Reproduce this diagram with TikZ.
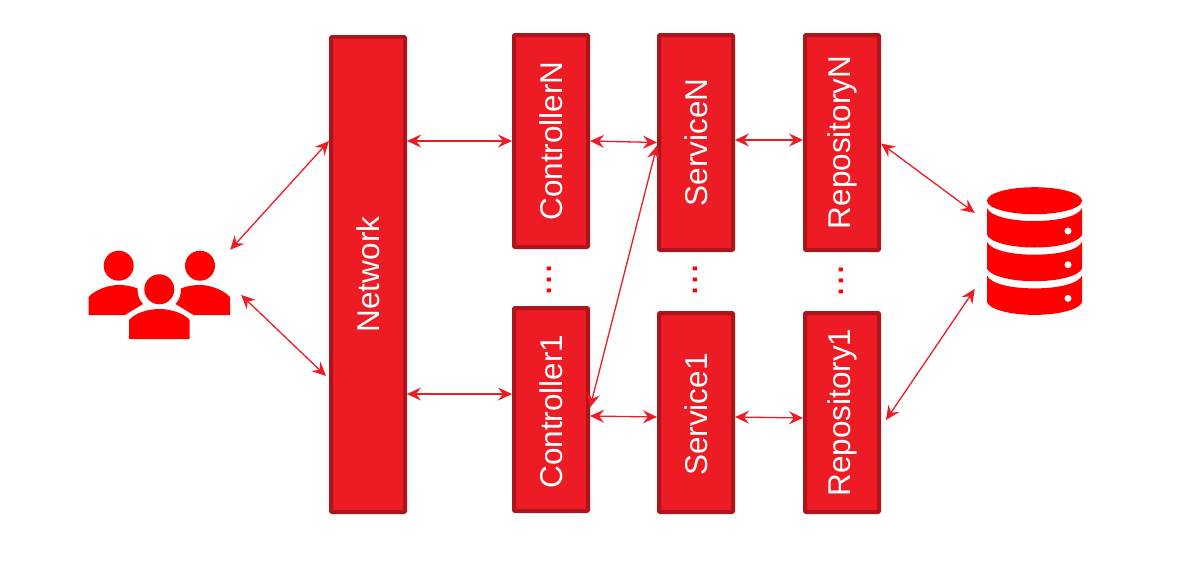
\documentclass[tikz,border=0pt]{standalone}
\usepackage{fontspec}
\usepackage{xcolor}
\usepackage{tikz}
\usetikzlibrary{arrows.meta}
\setmainfont{Liberation Sans}
\definecolor{boxred}{HTML}{ED1C24}
\definecolor{boxedge}{HTML}{AD141B}
\definecolor{iconred}{HTML}{FF0000}
\tikzset{
    layerbox/.style={draw=boxedge,fill=boxred,line width=4pt,rounded corners=1pt,text=white,
        minimum width=74pt,inner sep=0pt,font=\fontsize{31.5}{36}\selectfont},
    link/.style={draw=boxred,line width=1.3pt,{Stealth[length=14pt,width=13pt,inset=5pt]}-{Stealth[length=14pt,width=13pt,inset=5pt]}},
    gapdots/.style={text=iconred,inner sep=0pt,rotate=90,font=\fontsize{40}{40}\selectfont},
    iconbox/.style={inner sep=0pt},
    icon/.style={fill=iconred,draw=none}
}
\newcommand{\uptext}[2][0pt]{\rotatebox{90}{#2\hspace*{#1}}}
\begin{document}
\begin{tikzpicture}[x=1pt,y=-1pt]
    \useasboundingbox (0,0) rectangle (1200,565);
    \node[layerbox,minimum height=475pt] (network) at (368,274.5) {\uptext{Network}};
    \node[layerbox,minimum height=212pt] (controllerN) at (551,141) {\uptext{ControllerN}};
    \node[layerbox,minimum height=203pt] (controller1) at (551,409.5) {\uptext[4pt]{Controller1}};
    \node[layerbox,minimum height=215pt] (serviceN) at (696,142.5) {\uptext{ServiceN}};
    \node[layerbox,minimum height=199pt] (service1) at (696,412.5) {\uptext[4pt]{Service1}};
    \node[layerbox,minimum height=215pt] (repositoryN) at (842,142.5) {\uptext{RepositoryN}};
    \node[layerbox,minimum height=199pt] (repository1) at (842,412.5) {\uptext{Repository1}};
    \node[gapdots] (dotsC) at (549,280) {...};
    \node[gapdots] (dotsS) at (695,280) {...};
    \node[gapdots] (dotsR) at (841,281) {...};
    % icons
    \node[iconbox,minimum width=142pt,minimum height=90pt] (users) at (159,295) {};
    \node[iconbox,minimum width=95pt,minimum height=128pt] (database) at (1034.5,251) {};
    \fill[icon] (118.7,265.7) circle (15pt) (200,265.7) circle (15pt) (159.3,289.3) circle (15pt);
    \fill[icon] (88.5,315) -- (88.5,297) .. controls (95,290) and (108,285) .. (118.7,285)
        .. controls (125,285) and (132,286) .. (137.5,288.5) .. controls (137.5,295) and (139,300) .. (143,304)
        -- (125,315) -- cycle;
    \fill[icon] (230,315) -- (230,297) .. controls (223.5,290) and (210.5,285) .. (200,285)
        .. controls (193.5,285) and (186.5,286) .. (181,288.5) .. controls (181,295) and (179.5,300) .. (175.5,304)
        -- (193.5,315) -- cycle;
    \fill[icon] (129,339) -- (129,320) .. controls (135,313) and (148,309) .. (159.3,309)
        .. controls (170.5,309) and (183.5,313) .. (189.7,320) -- (189.7,339) -- cycle;
    \fill[icon] (1034.5,200.7) ellipse [x radius=47.5pt,y radius=13.5pt];
    \foreach \y in {0,33.7,67.4} {
        \fill[icon] (987,208+\y) .. controls (990,216+\y) and (1010,221+\y) .. (1034.5,221+\y)
            .. controls (1059,221+\y) and (1079,216+\y) .. (1082,208+\y) -- (1082,235+\y)
            .. controls (1079,242+\y) and (1059,247.5+\y) .. (1034.5,247.5+\y)
            .. controls (1010,247.5+\y) and (990,242+\y) .. (987,235+\y) -- cycle;
        \fill[white] (1068,231+\y) circle (3.5pt);
    }
    % links
    \draw[link] (network.north east |- controllerN.west) -- (controllerN.west);
    \draw[link] ([yshift=15.5pt]controller1.west -| network.east) -- ([yshift=15.5pt]controller1.west);
    \draw[link] (controllerN.east) -- (serviceN.west);
    \draw[link] ([yshift=2.5pt]serviceN.east) -- ([yshift=2.5pt]repositoryN.west);
    \draw[link] ([yshift=-6.5pt]controller1.east) -- ([yshift=-4.5pt]service1.west);
    \draw[link] ([yshift=-4.5pt]service1.east) -- ([yshift=-5.5pt]repository1.west);
    \draw[link] ([yshift=2pt]controller1.east) -- ([yshift=-3pt]serviceN.west);
    \draw[link] (users.north east) -- (network.west |- controllerN.west);
    \draw[link] ([xshift=11pt]users.east) -- ([xshift=-3pt,yshift=-101.5pt]network.west);
    \draw[link] ([yshift=-1pt]repositoryN.east) -- ([xshift=-12pt,yshift=38pt]database.west);
    \draw[link] ([xshift=5pt,yshift=-7.5pt]repository1.east) -- ([xshift=-12pt,yshift=-38pt]database.west);
\end{tikzpicture}
\end{document}
